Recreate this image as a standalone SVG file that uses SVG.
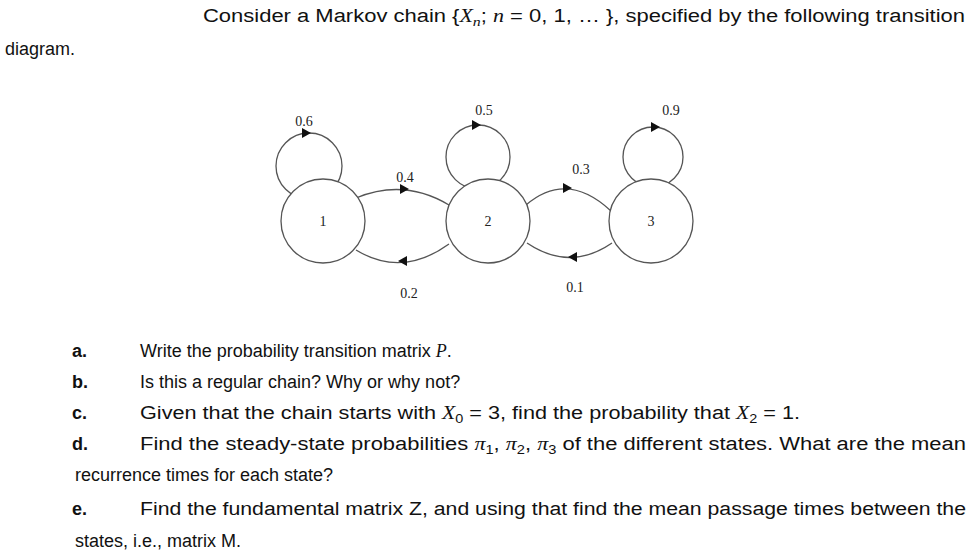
<svg xmlns="http://www.w3.org/2000/svg" width="971" height="558" viewBox="0 0 971 558">
<style>
.t{font-family:"Liberation Sans",Arial,sans-serif;font-size:18px;fill:#111}
.m{font-family:"Liberation Serif",serif;font-style:italic}
.l{font-family:"Liberation Serif","Times New Roman",serif;font-size:14px;fill:#222}
.n{fill:#fff;stroke:#555;stroke-width:1.3}
.e{fill:none;stroke:#555;stroke-width:1.3}
.b{font-weight:bold}
</style>
<rect width="971" height="558" fill="#fff"/>
<text class="t" x="203" y="22" textLength="762" lengthAdjust="spacingAndGlyphs">Consider a Markov chain {<tspan class="m">X</tspan><tspan class="m" font-size="13" dy="4">n</tspan><tspan dy="-4">; </tspan><tspan class="m">n</tspan> = 0, 1, … }, specified by the following transition</text>
<text class="t" x="5" y="55">diagram.</text>
<g id="connectors">
<circle class="e" cx="309" cy="166" r="33"/>
<circle class="e" cx="478" cy="157" r="32"/>
<circle class="e" cx="653" cy="157" r="30"/>
<path class="e" d="M356,198 Q404,178 449,205"/>
<path class="e" d="M449,244 Q402,278 356,250"/>
<path class="e" d="M526,205 Q567,170 611,211"/>
<path class="e" d="M612,243 Q570,272 527,243"/>
<path d="M302,128 l9,5 l-9,5z" fill="#111"/>
<path d="M472,120 l9,5 l-9,5z" fill="#111"/>
<path d="M651,122 l9,5 l-9,5z" fill="#111"/>
<path d="M400,184 l9,5 l-9,5z" fill="#111"/>
<path d="M563,183 l9,5 l-9,5z" fill="#111"/>
<path d="M407,256 l-9,5 l9,5z" fill="#111"/>
<path d="M577,252 l-9,5 l9,5z" fill="#111"/>
</g>
<g id="node1"><circle class="n" cx="323" cy="221" r="42"/><text class="l" x="323" y="226" text-anchor="middle">1</text></g>
<g id="node2"><circle class="n" cx="488" cy="221" r="42"/><text class="l" x="488" y="226" text-anchor="middle">2</text></g>
<g id="node3"><circle class="n" cx="651" cy="221" r="42"/><text class="l" x="651" y="226" text-anchor="middle">3</text></g>
<g id="labels">
<text class="l" x="304" y="126" text-anchor="middle">0.6</text>
<text class="l" x="484" y="115" text-anchor="middle">0.5</text>
<text class="l" x="671" y="115" text-anchor="middle">0.9</text>
<text class="l" x="405" y="182" text-anchor="middle">0.4</text>
<text class="l" x="581" y="174" text-anchor="middle">0.3</text>
<text class="l" x="409" y="298" text-anchor="middle">0.2</text>
<text class="l" x="575" y="292" text-anchor="middle">0.1</text>
</g>
<text class="t b" x="72" y="357">a.</text>
<text class="t" x="140" y="357">Write the probability transition matrix <tspan class="m">P</tspan>.</text>
<text class="t b" x="72" y="388">b.</text>
<text class="t" x="140" y="388">Is this a regular chain? Why or why not?</text>
<text class="t b" x="72" y="419">c.</text>
<text class="t" x="140" y="419" textLength="660" lengthAdjust="spacingAndGlyphs">Given that the chain starts with <tspan class="m">X</tspan><tspan font-size="12" dy="4">0</tspan><tspan dy="-4"> = 3, find the probability that </tspan><tspan class="m">X</tspan><tspan font-size="12" dy="4">2</tspan><tspan dy="-4"> = 1.</tspan></text>
<text class="t b" x="72" y="450">d.</text>
<text class="t" x="140" y="450" textLength="826" lengthAdjust="spacingAndGlyphs">Find the steady-state probabilities <tspan class="m">π</tspan><tspan font-size="12" dy="4">1</tspan><tspan dy="-4">, </tspan><tspan class="m">π</tspan><tspan font-size="12" dy="4">2</tspan><tspan dy="-4">, </tspan><tspan class="m">π</tspan><tspan font-size="12" dy="4">3</tspan><tspan dy="-4"> of the different states. What are the mean</tspan></text>
<text class="t" x="75" y="481">recurrence times for each state?</text>
<text class="t b" x="72" y="515">e.</text>
<text class="t" x="140" y="515" textLength="826" lengthAdjust="spacingAndGlyphs">Find the fundamental matrix Z, and using that find the mean passage times between the</text>
<text class="t" x="75" y="547">states, i.e., matrix M.</text>
</svg>
